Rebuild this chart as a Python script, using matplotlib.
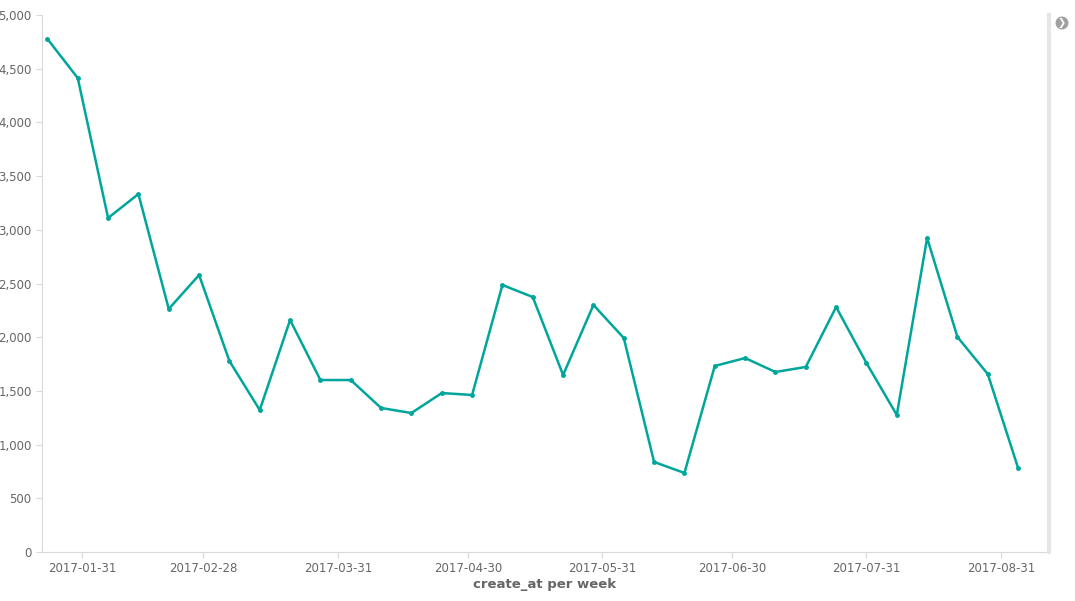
import numpy as np
import matplotlib.pyplot as plt
import matplotlib.dates as mdates
import pandas as pd

# weekly counts
weeks = pd.date_range("2017-01-23", periods=33, freq="7D")
counts = [4777, 4413, 3110, 3333, 2263, 2579, 1778, 1322, 2160, 1601, 1601,
          1341, 1294, 1480, 1462, 2486, 2374, 1648, 2300, 1993, 838, 736,
          1732, 1806, 1676, 1723, 2281, 1760, 1276, 2924, 2002, 1657, 782]
tick_dates = pd.to_datetime(["2017-01-31", "2017-02-28", "2017-03-31", "2017-04-30",
                             "2017-05-31", "2017-06-30", "2017-07-31", "2017-08-31"])

fig = plt.figure(figsize=(10.75, 6.01), dpi=100)
ax = fig.add_axes([42/1075, 49/601, (1047-42)/1075, (552-15)/601])
teal = "#00a69b"
ax.plot(weeks, counts, color=teal, lw=1.8, marker="o", ms=2.5)

ax.set_ylim(0, 5000)
ax.set_yticks(range(0, 5001, 500))
ax.yaxis.set_major_formatter(plt.FuncFormatter(lambda v, p: f"{int(v):,}"))
ax.set_xlim(pd.Timestamp("2017-01-23") - pd.Timedelta(hours=30),
            pd.Timestamp("2017-09-04") + pd.Timedelta(hours=160))
ax.set_xticks(tick_dates)
ax.xaxis.set_major_formatter(mdates.DateFormatter("%Y-%m-%d"))

for s in ["top", "right"]:
    ax.spines[s].set_visible(False)
for s in ["left", "bottom"]:
    ax.spines[s].set_color("#d9d9d9")
ax.tick_params(colors="#d9d9d9", labelcolor="#666666", labelsize=8.5, length=4)
ax.set_xlabel("create_at per week", color="#666666", fontsize=9.5, fontweight="bold", labelpad=2)

# light bar on the right edge
fig.add_artist(plt.Line2D([1049/1075, 1049/1075], [49/601, 586/601], color="#e6e6e6", lw=3))
fig.text(1062/1075, 578/601, "\u276f", ha="center", va="center", color="white", fontsize=7,
         bbox=dict(boxstyle="circle,pad=0.15", fc="#a0a0a0", ec="none"))

fig.savefig("out.png", dpi=100)
